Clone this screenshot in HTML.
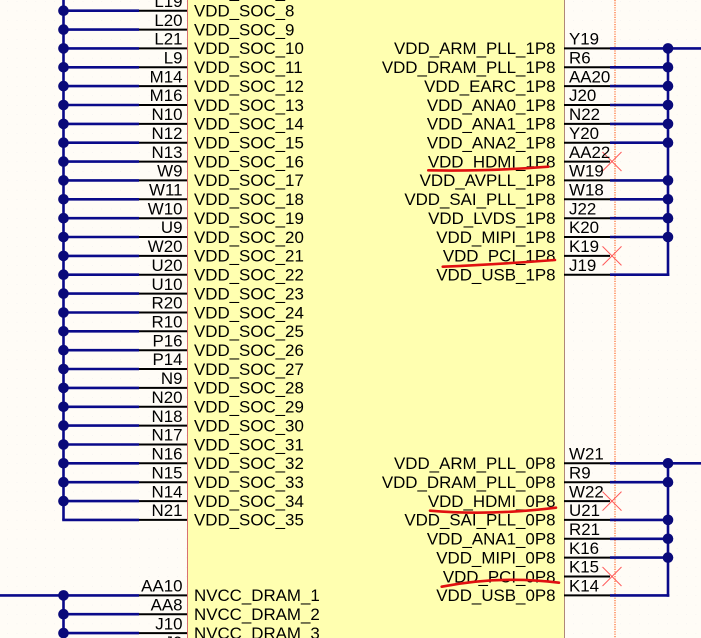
<!DOCTYPE html>
<html><head><meta charset="utf-8"><style>
html,body{margin:0;padding:0;background:#fffcf6;}
svg{display:block;}
text{font-family:"Liberation Sans",Arial,sans-serif;font-size:16.9px;fill:#000;}
.w{stroke:#0a0a8a;stroke-width:2.6;fill:none}
.p{stroke:#000;stroke-width:2;}
.d{fill:#0a0a7a}
.x{stroke:#ff5a5a;stroke-width:1}
.r{stroke:#e01010;stroke-width:2.6;fill:none;stroke-linecap:round}
</style></head><body>
<svg width="701" height="638" viewBox="0 0 701 638" xmlns="http://www.w3.org/2000/svg">
<defs>
<pattern id="g" patternUnits="userSpaceOnUse" x="7.3" y="10.7" width="9.43" height="9.43">
<rect x="-0.5" y="-0.5" width="1" height="1" fill="#dedbe4"/>
</pattern>
</defs>
<rect width="701" height="638" fill="#fffcf6"/>
<rect width="701" height="638" fill="url(#g)"/>
<!-- body -->
<rect x="187" y="-2" width="377" height="645" fill="#ffffb0"/>
<line x1="187.5" y1="0" x2="187.5" y2="638" stroke="#d87070" stroke-width="1"/>
<line x1="564.5" y1="0" x2="564.5" y2="638" stroke="#b08878" stroke-width="1"/>
<!-- dotted boundary -->
<line x1="615" y1="0" x2="615" y2="638" stroke="#ffa47c" stroke-width="2" stroke-dasharray="1.2 1.2"/>

<!-- LEFT VDD_SOC -->
<line class="w" x1="63.5" y1="0" x2="63.5" y2="519.9"/>
<g class="w">
<line x1="63.5" y1="10.7" x2="139" y2="10.7"/>
<line x1="63.5" y1="29.6" x2="139" y2="29.6"/>
<line x1="63.5" y1="48.4" x2="139" y2="48.4"/>
<line x1="63.5" y1="67.3" x2="139" y2="67.3"/>
<line x1="63.5" y1="86.1" x2="139" y2="86.1"/>
<line x1="63.5" y1="105" x2="139" y2="105"/>
<line x1="63.5" y1="123.9" x2="139" y2="123.9"/>
<line x1="63.5" y1="142.7" x2="139" y2="142.7"/>
<line x1="63.5" y1="161.6" x2="139" y2="161.6"/>
<line x1="63.5" y1="180.4" x2="139" y2="180.4"/>
<line x1="63.5" y1="199.3" x2="139" y2="199.3"/>
<line x1="63.5" y1="218.2" x2="139" y2="218.2"/>
<line x1="63.5" y1="237" x2="139" y2="237"/>
<line x1="63.5" y1="255.9" x2="139" y2="255.9"/>
<line x1="63.5" y1="274.7" x2="139" y2="274.7"/>
<line x1="63.5" y1="293.6" x2="139" y2="293.6"/>
<line x1="63.5" y1="312.5" x2="139" y2="312.5"/>
<line x1="63.5" y1="331.3" x2="139" y2="331.3"/>
<line x1="63.5" y1="350.2" x2="139" y2="350.2"/>
<line x1="63.5" y1="369" x2="139" y2="369"/>
<line x1="63.5" y1="387.9" x2="139" y2="387.9"/>
<line x1="63.5" y1="406.8" x2="139" y2="406.8"/>
<line x1="63.5" y1="425.6" x2="139" y2="425.6"/>
<line x1="63.5" y1="444.5" x2="139" y2="444.5"/>
<line x1="63.5" y1="463.3" x2="139" y2="463.3"/>
<line x1="63.5" y1="482.2" x2="139" y2="482.2"/>
<line x1="63.5" y1="501.1" x2="139" y2="501.1"/>
<line x1="62.2" y1="519.9" x2="139" y2="519.9"/>
</g>
<g class="p">
<line x1="139" y1="10.7" x2="187" y2="10.7"/>
<line x1="139" y1="29.6" x2="187" y2="29.6"/>
<line x1="139" y1="48.4" x2="187" y2="48.4"/>
<line x1="139" y1="67.3" x2="187" y2="67.3"/>
<line x1="139" y1="86.1" x2="187" y2="86.1"/>
<line x1="139" y1="105" x2="187" y2="105"/>
<line x1="139" y1="123.9" x2="187" y2="123.9"/>
<line x1="139" y1="142.7" x2="187" y2="142.7"/>
<line x1="139" y1="161.6" x2="187" y2="161.6"/>
<line x1="139" y1="180.4" x2="187" y2="180.4"/>
<line x1="139" y1="199.3" x2="187" y2="199.3"/>
<line x1="139" y1="218.2" x2="187" y2="218.2"/>
<line x1="139" y1="237" x2="187" y2="237"/>
<line x1="139" y1="255.9" x2="187" y2="255.9"/>
<line x1="139" y1="274.7" x2="187" y2="274.7"/>
<line x1="139" y1="293.6" x2="187" y2="293.6"/>
<line x1="139" y1="312.5" x2="187" y2="312.5"/>
<line x1="139" y1="331.3" x2="187" y2="331.3"/>
<line x1="139" y1="350.2" x2="187" y2="350.2"/>
<line x1="139" y1="369" x2="187" y2="369"/>
<line x1="139" y1="387.9" x2="187" y2="387.9"/>
<line x1="139" y1="406.8" x2="187" y2="406.8"/>
<line x1="139" y1="425.6" x2="187" y2="425.6"/>
<line x1="139" y1="444.5" x2="187" y2="444.5"/>
<line x1="139" y1="463.3" x2="187" y2="463.3"/>
<line x1="139" y1="482.2" x2="187" y2="482.2"/>
<line x1="139" y1="501.1" x2="187" y2="501.1"/>
<line x1="139" y1="519.9" x2="187" y2="519.9"/>
</g>
<g class="d">
<circle cx="63.5" cy="10.7" r="5.3"/>
<circle cx="63.5" cy="29.6" r="5.3"/>
<circle cx="63.5" cy="48.4" r="5.3"/>
<circle cx="63.5" cy="67.3" r="5.3"/>
<circle cx="63.5" cy="86.1" r="5.3"/>
<circle cx="63.5" cy="105" r="5.3"/>
<circle cx="63.5" cy="123.9" r="5.3"/>
<circle cx="63.5" cy="142.7" r="5.3"/>
<circle cx="63.5" cy="161.6" r="5.3"/>
<circle cx="63.5" cy="180.4" r="5.3"/>
<circle cx="63.5" cy="199.3" r="5.3"/>
<circle cx="63.5" cy="218.2" r="5.3"/>
<circle cx="63.5" cy="237" r="5.3"/>
<circle cx="63.5" cy="255.9" r="5.3"/>
<circle cx="63.5" cy="274.7" r="5.3"/>
<circle cx="63.5" cy="293.6" r="5.3"/>
<circle cx="63.5" cy="312.5" r="5.3"/>
<circle cx="63.5" cy="331.3" r="5.3"/>
<circle cx="63.5" cy="350.2" r="5.3"/>
<circle cx="63.5" cy="369" r="5.3"/>
<circle cx="63.5" cy="387.9" r="5.3"/>
<circle cx="63.5" cy="406.8" r="5.3"/>
<circle cx="63.5" cy="425.6" r="5.3"/>
<circle cx="63.5" cy="444.5" r="5.3"/>
<circle cx="63.5" cy="463.3" r="5.3"/>
<circle cx="63.5" cy="482.2" r="5.3"/>
<circle cx="63.5" cy="501.1" r="5.3"/>
</g>
<g>
<text x="182.5" y="6.9" text-anchor="end">L19</text>
<text x="182.5" y="25.8" text-anchor="end">L20</text>
<text x="182.5" y="44.6" text-anchor="end">L21</text>
<text x="182.5" y="63.5" text-anchor="end">L9</text>
<text x="182.5" y="82.3" text-anchor="end">M14</text>
<text x="182.5" y="101.2" text-anchor="end">M16</text>
<text x="182.5" y="120.1" text-anchor="end">N10</text>
<text x="182.5" y="138.9" text-anchor="end">N12</text>
<text x="182.5" y="157.8" text-anchor="end">N13</text>
<text x="182.5" y="176.6" text-anchor="end">W9</text>
<text x="182.5" y="195.5" text-anchor="end">W11</text>
<text x="182.5" y="214.4" text-anchor="end">W10</text>
<text x="182.5" y="233.2" text-anchor="end">U9</text>
<text x="182.5" y="252.1" text-anchor="end">W20</text>
<text x="182.5" y="270.9" text-anchor="end">U20</text>
<text x="182.5" y="289.8" text-anchor="end">U10</text>
<text x="182.5" y="308.7" text-anchor="end">R20</text>
<text x="182.5" y="327.5" text-anchor="end">R10</text>
<text x="182.5" y="346.4" text-anchor="end">P16</text>
<text x="182.5" y="365.2" text-anchor="end">P14</text>
<text x="182.5" y="384.1" text-anchor="end">N9</text>
<text x="182.5" y="403" text-anchor="end">N20</text>
<text x="182.5" y="421.8" text-anchor="end">N18</text>
<text x="182.5" y="440.7" text-anchor="end">N17</text>
<text x="182.5" y="459.5" text-anchor="end">N16</text>
<text x="182.5" y="478.4" text-anchor="end">N15</text>
<text x="182.5" y="497.3" text-anchor="end">N14</text>
<text x="182.5" y="516.1" text-anchor="end">N21</text>
<text x="182.5" y="591.6" text-anchor="end">AA10</text>
<text x="182.5" y="610.4" text-anchor="end">AA8</text>
<text x="182.5" y="629.3" text-anchor="end">J10</text>
<text x="182.5" y="648.1" text-anchor="end">J9</text>
</g>
<g>
<text x="194" y="-2.4">VDD_SOC_7</text>
<text x="194" y="16.5">VDD_SOC_8</text>
<text x="194" y="35.4">VDD_SOC_9</text>
<text x="194" y="54.2">VDD_SOC_10</text>
<text x="194" y="73.1">VDD_SOC_11</text>
<text x="194" y="91.9">VDD_SOC_12</text>
<text x="194" y="110.8">VDD_SOC_13</text>
<text x="194" y="129.7">VDD_SOC_14</text>
<text x="194" y="148.5">VDD_SOC_15</text>
<text x="194" y="167.4">VDD_SOC_16</text>
<text x="194" y="186.2">VDD_SOC_17</text>
<text x="194" y="205.1">VDD_SOC_18</text>
<text x="194" y="224">VDD_SOC_19</text>
<text x="194" y="242.8">VDD_SOC_20</text>
<text x="194" y="261.7">VDD_SOC_21</text>
<text x="194" y="280.5">VDD_SOC_22</text>
<text x="194" y="299.4">VDD_SOC_23</text>
<text x="194" y="318.3">VDD_SOC_24</text>
<text x="194" y="337.1">VDD_SOC_25</text>
<text x="194" y="356">VDD_SOC_26</text>
<text x="194" y="374.8">VDD_SOC_27</text>
<text x="194" y="393.7">VDD_SOC_28</text>
<text x="194" y="412.6">VDD_SOC_29</text>
<text x="194" y="431.4">VDD_SOC_30</text>
<text x="194" y="450.3">VDD_SOC_31</text>
<text x="194" y="469.1">VDD_SOC_32</text>
<text x="194" y="488">VDD_SOC_33</text>
<text x="194" y="506.9">VDD_SOC_34</text>
<text x="194" y="525.7">VDD_SOC_35</text>
<text x="194" y="601.2">NVCC_DRAM_1</text>
<text x="194" y="620">NVCC_DRAM_2</text>
<text x="194" y="638.9">NVCC_DRAM_3</text>
<text x="194" y="657.7">NVCC_DRAM_4</text>
</g>

<!-- NVCC -->
<line class="w" x1="63.5" y1="595.4" x2="63.5" y2="640"/>
<g class="w">
<line x1="0" y1="595.4" x2="139" y2="595.4"/>
<line x1="63.5" y1="614.2" x2="139" y2="614.2"/>
<line x1="63.5" y1="633.1" x2="139" y2="633.1"/>
</g>
<g class="p">
<line x1="139" y1="595.4" x2="187" y2="595.4"/>
<line x1="139" y1="614.2" x2="187" y2="614.2"/>
<line x1="139" y1="633.1" x2="187" y2="633.1"/>
</g>
<g class="d">
<circle cx="63.5" cy="595.4" r="5.3"/>
<circle cx="63.5" cy="614.2" r="5.3"/>
<circle cx="63.5" cy="633.1" r="5.3"/>
</g>

<!-- RIGHT TOP 1P8 -->
<line class="w" x1="668" y1="48.4" x2="668" y2="276"/>
<g class="w">
<line x1="610" y1="48.4" x2="701" y2="48.4"/>
<line x1="610" y1="67.3" x2="668" y2="67.3"/>
<line x1="610" y1="86.1" x2="668" y2="86.1"/>
<line x1="610" y1="105" x2="668" y2="105"/>
<line x1="610" y1="123.9" x2="668" y2="123.9"/>
<line x1="610" y1="142.7" x2="668" y2="142.7"/>
<line x1="610" y1="180.4" x2="668" y2="180.4"/>
<line x1="610" y1="199.3" x2="668" y2="199.3"/>
<line x1="610" y1="218.2" x2="668" y2="218.2"/>
<line x1="610" y1="237" x2="668" y2="237"/>
<line x1="610" y1="274.7" x2="669.3" y2="274.7"/>
</g>
<g class="p">
<line x1="564" y1="48.4" x2="610" y2="48.4"/>
<line x1="564" y1="67.3" x2="610" y2="67.3"/>
<line x1="564" y1="86.1" x2="610" y2="86.1"/>
<line x1="564" y1="105" x2="610" y2="105"/>
<line x1="564" y1="123.9" x2="610" y2="123.9"/>
<line x1="564" y1="142.7" x2="610" y2="142.7"/>
<line x1="564" y1="161.6" x2="610" y2="161.6"/>
<line x1="564" y1="180.4" x2="610" y2="180.4"/>
<line x1="564" y1="199.3" x2="610" y2="199.3"/>
<line x1="564" y1="218.2" x2="610" y2="218.2"/>
<line x1="564" y1="237" x2="610" y2="237"/>
<line x1="564" y1="255.9" x2="610" y2="255.9"/>
<line x1="564" y1="274.7" x2="610" y2="274.7"/>
</g>
<g class="d">
<circle cx="668" cy="48.4" r="5.3"/>
<circle cx="668" cy="67.3" r="5.3"/>
<circle cx="668" cy="86.1" r="5.3"/>
<circle cx="668" cy="105" r="5.3"/>
<circle cx="668" cy="123.9" r="5.3"/>
<circle cx="668" cy="142.7" r="5.3"/>
<circle cx="668" cy="180.4" r="5.3"/>
<circle cx="668" cy="199.3" r="5.3"/>
<circle cx="668" cy="218.2" r="5.3"/>
<circle cx="668" cy="237" r="5.3"/>
</g>
<g class="x">
<line x1="602.5" y1="152" x2="621.5" y2="171"/>
<line x1="602.5" y1="171" x2="621.5" y2="152"/>
<line x1="602.5" y1="246.4" x2="621.5" y2="265.4"/>
<line x1="602.5" y1="265.4" x2="621.5" y2="246.4"/>
</g>
<g>
<text x="569" y="44.6">Y19</text>
<text x="569" y="63.5">R6</text>
<text x="569" y="82.3">AA20</text>
<text x="569" y="101.2">J20</text>
<text x="569" y="120.1">N22</text>
<text x="569" y="138.9">Y20</text>
<text x="569" y="157.8">AA22</text>
<text x="569" y="176.6">W19</text>
<text x="569" y="195.5">W18</text>
<text x="569" y="214.4">J22</text>
<text x="569" y="233.2">K20</text>
<text x="569" y="252.1">K19</text>
<text x="569" y="270.9">J19</text>
</g>
<g>
<text x="555.5" y="54.2" text-anchor="end">VDD_ARM_PLL_1P8</text>
<text x="555.5" y="73.1" text-anchor="end">VDD_DRAM_PLL_1P8</text>
<text x="555.5" y="91.9" text-anchor="end">VDD_EARC_1P8</text>
<text x="555.5" y="110.8" text-anchor="end">VDD_ANA0_1P8</text>
<text x="555.5" y="129.7" text-anchor="end">VDD_ANA1_1P8</text>
<text x="555.5" y="148.5" text-anchor="end">VDD_ANA2_1P8</text>
<text x="555.5" y="167.4" text-anchor="end">VDD_HDMI_1P8</text>
<text x="555.5" y="186.2" text-anchor="end">VDD_AVPLL_1P8</text>
<text x="555.5" y="205.1" text-anchor="end">VDD_SAI_PLL_1P8</text>
<text x="555.5" y="224" text-anchor="end">VDD_LVDS_1P8</text>
<text x="555.5" y="242.8" text-anchor="end">VDD_MIPI_1P8</text>
<text x="555.5" y="261.7" text-anchor="end">VDD_PCI_1P8</text>
<text x="555.5" y="280.5" text-anchor="end">VDD_USB_1P8</text>
</g>

<!-- RIGHT BOTTOM 0P8 -->
<line class="w" x1="668" y1="463.3" x2="668" y2="596.7"/>
<g class="w">
<line x1="610" y1="463.3" x2="701" y2="463.3"/>
<line x1="610" y1="482.2" x2="668" y2="482.2"/>
<line x1="610" y1="519.9" x2="668" y2="519.9"/>
<line x1="610" y1="538.8" x2="668" y2="538.8"/>
<line x1="610" y1="557.6" x2="668" y2="557.6"/>
<line x1="610" y1="595.4" x2="669.3" y2="595.4"/>
</g>
<g class="p">
<line x1="564" y1="463.3" x2="610" y2="463.3"/>
<line x1="564" y1="482.2" x2="610" y2="482.2"/>
<line x1="564" y1="501.1" x2="610" y2="501.1"/>
<line x1="564" y1="519.9" x2="610" y2="519.9"/>
<line x1="564" y1="538.8" x2="610" y2="538.8"/>
<line x1="564" y1="557.6" x2="610" y2="557.6"/>
<line x1="564" y1="576.5" x2="610" y2="576.5"/>
<line x1="564" y1="595.4" x2="610" y2="595.4"/>
</g>
<g class="d">
<circle cx="668" cy="463.3" r="5.3"/>
<circle cx="668" cy="482.2" r="5.3"/>
<circle cx="668" cy="519.9" r="5.3"/>
<circle cx="668" cy="538.8" r="5.3"/>
<circle cx="668" cy="557.6" r="5.3"/>
</g>
<g class="x">
<line x1="602.5" y1="491.6" x2="621.5" y2="510.6"/>
<line x1="602.5" y1="510.6" x2="621.5" y2="491.6"/>
<line x1="602.5" y1="567" x2="621.5" y2="586"/>
<line x1="602.5" y1="586" x2="621.5" y2="567"/>
</g>
<g>
<text x="569" y="459.5">W21</text>
<text x="569" y="478.4">R9</text>
<text x="569" y="497.3">W22</text>
<text x="569" y="516.1">U21</text>
<text x="569" y="535">R21</text>
<text x="569" y="553.9">K16</text>
<text x="569" y="572.7">K15</text>
<text x="569" y="591.6">K14</text>
</g>
<g>
<text x="555.5" y="469.1" text-anchor="end">VDD_ARM_PLL_0P8</text>
<text x="555.5" y="488" text-anchor="end">VDD_DRAM_PLL_0P8</text>
<text x="555.5" y="506.9" text-anchor="end">VDD_HDMI_0P8</text>
<text x="555.5" y="525.7" text-anchor="end">VDD_SAI_PLL_0P8</text>
<text x="555.5" y="544.6" text-anchor="end">VDD_ANA1_0P8</text>
<text x="555.5" y="563.4" text-anchor="end">VDD_MIPI_0P8</text>
<text x="555.5" y="582.3" text-anchor="end">VDD_PCI_0P8</text>
<text x="555.5" y="601.2" text-anchor="end">VDD_USB_0P8</text>
</g>

<!-- red annotations -->
<path class="r" d="M428.3,170.3 Q486,171.5 548.3,166.7"/>
<path class="r" d="M442.7,266.7 Q493,264.6 555,260"/>
<path class="r" d="M430,510.7 Q490,515.8 556,507.7"/>
<path class="r" d="M441.7,586.7 Q500,575.3 559,582.7"/>
</svg>
</body></html>
